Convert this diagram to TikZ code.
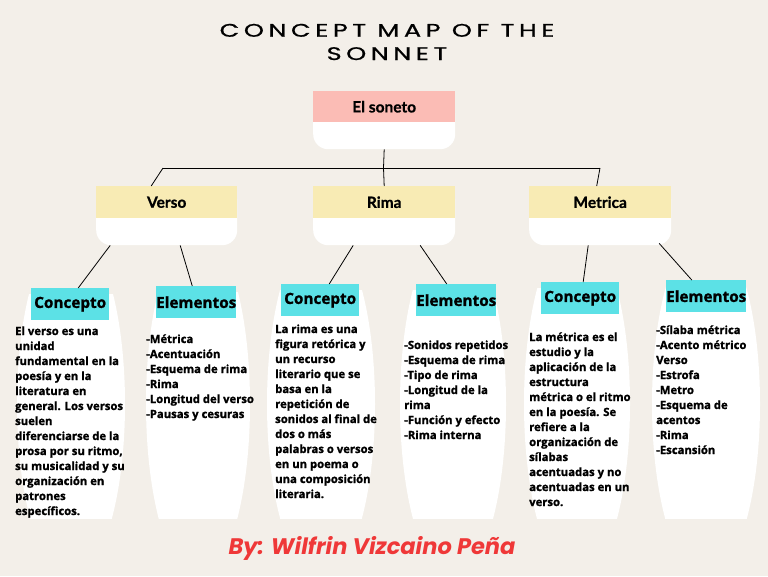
\documentclass[tikz,border=0pt]{standalone}
\usepackage{fontspec}
\setmainfont{Open Sans}[BoldFeatures={FakeBold=1.3}]
\newfontfamily\titlefont{Poppins}[LetterSpace=18, FakeBold=0.8]
\newfontfamily\labelfont{Lato}[BoldFeatures={FakeBold=0.8}]
\newfontfamily\signfont{Poppins}
\usetikzlibrary{calc}
\definecolor{bgc}{HTML}{F3EFE9}
\definecolor{pinkc}{HTML}{FBBCB5}
\definecolor{yellowc}{HTML}{F8EBB4}
\definecolor{cyanc}{HTML}{5CE1E6}
\definecolor{redc}{HTML}{EF3838}
\begin{document}
\begin{tikzpicture}[x=1pt,y=-1pt,
  conn/.style={draw=black, line width=0.8pt},
  whitepart/.style={fill=white, rounded corners=15pt, anchor=north west, inner sep=0pt, minimum width=142pt, minimum height=49pt},
  headlbl/.style={anchor=north west, inner sep=0pt, minimum width=142pt, minimum height=31pt, font=\labelfont\bfseries\fontsize{15.5}{18}\selectfont},
  cyanbox/.style={fill=cyanc, anchor=north west, inner sep=0pt, minimum width=78pt, minimum height=32pt, font=\bfseries\fontsize{15.3}{17}\selectfont},
  bodytext/.style={anchor=base west, inner sep=0pt, font=\bfseries\fontsize{11.3}{15}\selectfont}
]
\useasboundingbox (0,0) rectangle (768,576);
\fill[bgc] (0,0) rectangle (768,576);

% white ovals behind the texts
\foreach \cx/\rx/\yt in {71/54/294, 198/52/292, 321/54/290, 453/53/290, 577/53/288, 706/54/286}{
  \begin{scope}
    \clip (\cx-70,\yt) rectangle (\cx+70,518);
    \fill[white] (\cx,404) ellipse [x radius=\rx pt, y radius=175pt];
  \end{scope}
}

% title
\node[anchor=base, inner sep=0pt, font=\titlefont\fontsize{18.2}{23.3}\selectfont] (title) at (387,36.7)
  {\scalebox{1.4}[1]{\begin{tabular}[t]{@{}c@{}}CONCEPT MAP OF THE\\SONNET\end{tabular}}};

% top node
\node[whitepart] (sonetob) at (313,100) {};
\node[headlbl, fill=pinkc] (soneto) at (313,91) {El soneto};

% second level
\node[whitepart, minimum width=141pt, minimum height=59pt] (versob) at (96,186) {};
\node[headlbl, minimum width=141pt, minimum height=32pt, fill=yellowc] (verso) at (96,186) {Verso};
\node[whitepart, minimum width=142pt, minimum height=59pt] (rimab) at (313,186) {};
\node[headlbl, minimum height=32pt, fill=yellowc] (rima) at (313,186) {Rima};
\node[whitepart, minimum width=142pt, minimum height=59pt] (metricab) at (529,186) {};
\node[headlbl, minimum height=32pt, fill=yellowc] (metrica) at (529,186) {Metrica};

% third level boxes
\node[cyanbox] (vc) at (31,288) {Concepto};
\node[cyanbox] (ve) at (156,286) {Elementos};
\node[cyanbox] (rc) at (281,284) {Concepto};
\node[cyanbox, minimum width=77pt] (re) at (416,284) {Elementos};
\node[cyanbox] (mc) at (541,282) {Concepto};
\node[cyanbox, minimum width=77pt] (me) at (666,280) {Elementos};

% connectors
\coordinate (junction) at (383.5,168);
\coordinate (jl) at (163,168);
\coordinate (jr) at (600,168);
\draw[conn] (sonetob.south) -- (junction) -- (rima.north);
\draw[conn] (jl) -- (jr);
\draw[conn] (jl) -- ($(verso.north)+(-15.5,0)$);
\draw[conn] (jr) -- ($(metrica.north)+(-3.5,0)$);

\draw[conn] ($(versob.south)+(-56.5,0)$) -- ($(vc.north)+(8,0)$);
\draw[conn] ($(versob.south)+(13.5,0)$) -- ($(ve.north)+(-4,0)$);
\draw[conn] ($(rimab.south)+(-31,0)$) -- ($(rc.north)+(9,0)$);
\draw[conn] ($(rimab.south)+(36,0)$) -- ($(re.north)+(-9.5,0)$);
\draw[conn] ($(metricab.south)+(-12,0)$) -- ($(mc.north)+(3,0)$);
\draw[conn] ($(metricab.south)+(59,-2)$) -- ($(me.north)+(-14.5,0)$);

% texts
\node[bodytext] (vct) at (15,335) {\begin{tabular}[t]{@{}l@{}}
El verso es una\\ unidad\\ fundamental en la\\ poesía y en la\\ literatura en\\ general. Los versos\\ suelen\\ diferenciarse de la\\ prosa por su ritmo,\\ su musicalidad y su\\ organización en\\ patrones\\ específicos.\end{tabular}};
\node[bodytext] (vet) at (146,343) {\begin{tabular}[t]{@{}l@{}}
-Métrica\\ -Acentuación\\ -Esquema de rima\\ -Rima\\ -Longitud del verso\\ -Pausas y cesuras\end{tabular}};
\node[bodytext] (rct) at (275,333) {\begin{tabular}[t]{@{}l@{}}
La rima es una\\ figura retórica y\\ un recurso\\ literario que se\\ basa en la\\ repetición de\\ sonidos al final de\\ dos o más\\ palabras o versos\\ en un poema o\\ una composición\\ literaria.\end{tabular}};
\node[bodytext] (ret) at (404,349) {\begin{tabular}[t]{@{}l@{}}
-Sonidos repetidos\\ -Esquema de rima\\ -Tipo de rima\\ -Longitud de la\\ rima\\ -Función y efecto\\ -Rima interna\end{tabular}};
\node[bodytext] (mct) at (529,341) {\begin{tabular}[t]{@{}l@{}}
La métrica es el\\ estudio y la\\ aplicación de la\\ estructura\\ métrica o el ritmo\\ en la poesía. Se\\ refiere a la\\ organización de\\ sílabas\\ acentuadas y no\\ acentuadas en un\\ verso.\end{tabular}};
\node[bodytext] (met) at (656,334) {\begin{tabular}[t]{@{}l@{}}
-Sílaba métrica\\ -Acento métrico\\ Verso\\ -Estrofa\\ -Metro\\ -Esquema de\\ acentos\\ -Rima\\ -Escansión\end{tabular}};

% signature
\node[anchor=base, inner sep=0pt, text=redc, font=\signfont\bfseries\itshape\fontsize{22.5}{28}\selectfont] (sign) at (372,554) {By: Wilfrin Vizcaino Peña};
\end{tikzpicture}
\end{document}
